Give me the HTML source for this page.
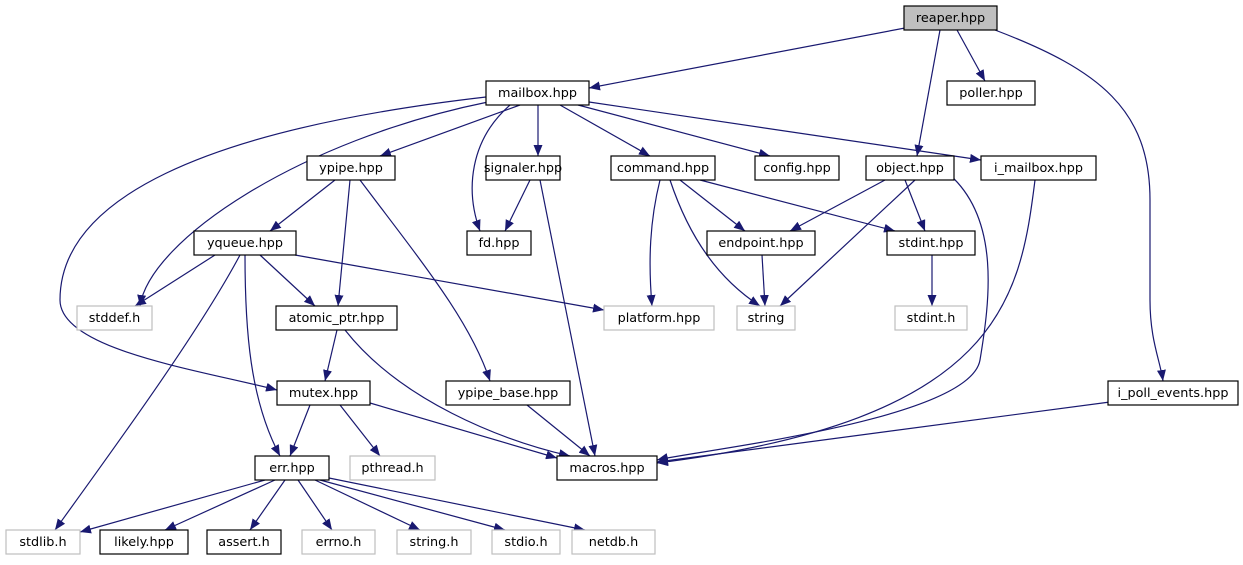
<!DOCTYPE html>
<html><head><meta charset="utf-8"><style>
html,body{margin:0;padding:0;background:#fff;}
svg text{font-family:"DejaVu Sans","Liberation Sans",sans-serif;font-size:12.8px;fill:#000;}
</style></head><body>
<svg width="1243" height="560" viewBox="0 0 1243 560" xmlns="http://www.w3.org/2000/svg">
<defs><marker id="a" markerWidth="11" markerHeight="9" refX="11" refY="4.5" orient="auto" markerUnits="userSpaceOnUse"><path d="M0,0 L11,4.5 L0,9 z" fill="#191970"/></marker></defs>
<g fill="none" stroke="#191970" stroke-width="1.2" marker-end="url(#a)">
<path d="M905,28 L589,88"/>
<path d="M957,30 L985,81"/>
<path d="M940,30 L917,156"/>
<path d="M995,30 C1100,70 1150,110 1150,200 L1150,300 C1150,340 1160,360 1163,381"/>
<path d="M486,97 C200,130 60,200 60,300 C60,350 200,370 277,390"/>
<path d="M488,102 C300,140 150,240 140,306"/>
<path d="M520,105 L380,156"/>
<path d="M510,105 C470,140 465,190 480,231"/>
<path d="M538,105 L538,156"/>
<path d="M560,105 L650,156"/>
<path d="M578,105 L770,156"/>
<path d="M589,102 L981,160"/>
<path d="M335,180 L270,231"/>
<path d="M350,180 L338,306"/>
<path d="M360,180 C420,260 470,320 490,381"/>
<path d="M530,180 L505,231"/>
<path d="M540,180 L595,456"/>
<path d="M680,180 L745,231"/>
<path d="M700,180 L895,231"/>
<path d="M660,180 C650,220 648,260 652,306"/>
<path d="M670,180 C690,240 720,280 760,306"/>
<path d="M885,180 L790,231"/>
<path d="M905,180 L925,231"/>
<path d="M915,180 L780,306"/>
<path d="M950,175 C1000,220 990,300 980,360 C970,420 700,450 657,460"/>
<path d="M1035,180 C1020,300 1000,420 657,463"/>
<path d="M215,255 L135,306"/>
<path d="M260,255 L315,306"/>
<path d="M295,255 L604,310"/>
<path d="M240,255 C200,330 120,440 55,530"/>
<path d="M245,255 C245,330 250,400 280,456"/>
<path d="M762,255 L765,306"/>
<path d="M932,255 L932,306"/>
<path d="M337,330 L325,381"/>
<path d="M345,330 C400,400 500,440 570,456"/>
<path d="M310,405 L290,456"/>
<path d="M340,405 L380,456"/>
<path d="M370,403 L557,458"/>
<path d="M527,405 L590,456"/>
<path d="M1110,402 L657,462"/>
<path d="M265,480 L80,532"/>
<path d="M275,480 L165,530"/>
<path d="M285,480 L250,530"/>
<path d="M298,480 L332,530"/>
<path d="M315,480 L420,530"/>
<path d="M320,480 L505,530"/>
<path d="M329,478 L585,530"/>
</g>
<g stroke-width="1.2" text-anchor="middle">
<rect x="904" y="6" width="93" height="24" fill="#bfbfbf" stroke="#000"/><text x="950.5" y="22">reaper.hpp</text>
<g fill="#fff" stroke="#000">
<rect x="486" y="81" width="103" height="24"/><rect x="947" y="81" width="88" height="24"/>
<rect x="307" y="156" width="88" height="24"/><rect x="486" y="156" width="74" height="24"/>
<rect x="611" y="156" width="104" height="24"/><rect x="755" y="156" width="84" height="24"/>
<rect x="866" y="156" width="88" height="24"/><rect x="981" y="156" width="115" height="24"/>
<rect x="194" y="231" width="102" height="24"/><rect x="467" y="231" width="64" height="24"/>
<rect x="707" y="231" width="108" height="24"/><rect x="887" y="231" width="88" height="24"/>
<rect x="276" y="306" width="121" height="24"/>
<rect x="277" y="381" width="93" height="24"/><rect x="446" y="381" width="124" height="24"/>
<rect x="1108" y="381" width="130" height="24"/>
<rect x="255" y="456" width="74" height="24"/><rect x="557" y="456" width="100" height="24"/>
<rect x="100" y="530" width="88" height="24"/><rect x="207" y="530" width="74" height="24"/>
</g>
<g fill="#fff" stroke="#bfbfbf">
<rect x="77" y="306" width="75" height="24"/><rect x="604" y="306" width="110" height="24"/>
<rect x="737" y="306" width="58" height="24"/><rect x="895" y="306" width="72" height="24"/>
<rect x="350" y="456" width="85" height="24"/>
<rect x="6" y="530" width="74" height="24"/><rect x="302" y="530" width="73" height="24"/>
<rect x="397" y="530" width="74" height="24"/><rect x="492" y="530" width="68" height="24"/>
<rect x="572" y="530" width="83" height="24"/>
</g>
<text x="537.5" y="97">mailbox.hpp</text><text x="991" y="97">poller.hpp</text>
<text x="351" y="172">ypipe.hpp</text><text x="523" y="172">signaler.hpp</text>
<text x="663" y="172">command.hpp</text><text x="797" y="172">config.hpp</text>
<text x="910" y="172">object.hpp</text><text x="1038.5" y="172">i_mailbox.hpp</text>
<text x="245" y="247">yqueue.hpp</text><text x="499" y="247">fd.hpp</text>
<text x="761" y="247">endpoint.hpp</text><text x="931" y="247">stdint.hpp</text>
<text x="114.5" y="322">stddef.h</text><text x="336.5" y="322">atomic_ptr.hpp</text>
<text x="659" y="322">platform.hpp</text><text x="766" y="322">string</text><text x="931" y="322">stdint.h</text>
<text x="323.5" y="397">mutex.hpp</text><text x="508" y="397">ypipe_base.hpp</text><text x="1173" y="397">i_poll_events.hpp</text>
<text x="292" y="472">err.hpp</text><text x="392.5" y="472">pthread.h</text><text x="607" y="472">macros.hpp</text>
<text x="43" y="546">stdlib.h</text><text x="144" y="546">likely.hpp</text><text x="244" y="546">assert.h</text>
<text x="338.5" y="546">errno.h</text><text x="434" y="546">string.h</text><text x="526" y="546">stdio.h</text><text x="613.5" y="546">netdb.h</text>
</g>
</svg>
</body></html>
